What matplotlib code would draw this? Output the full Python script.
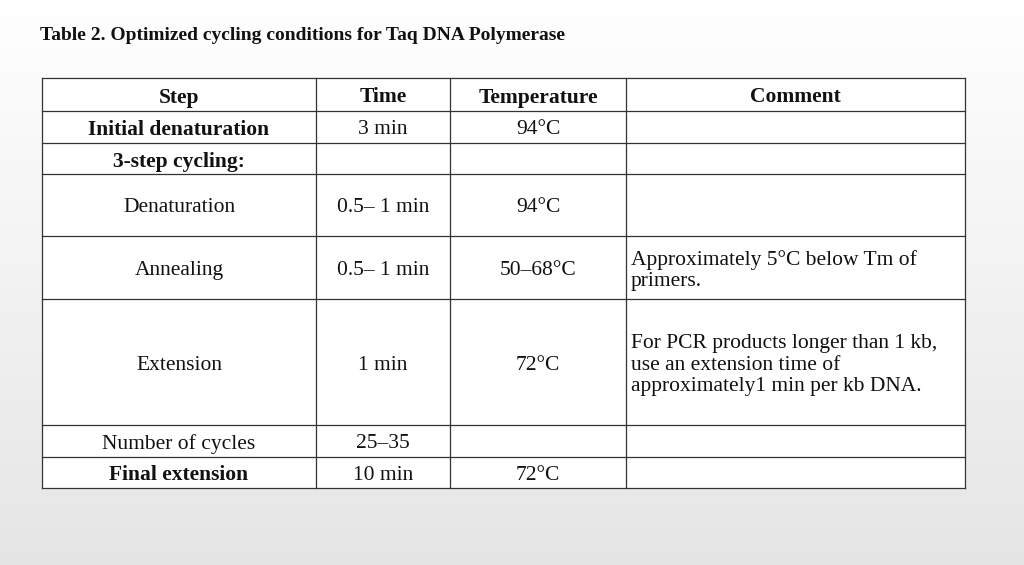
import numpy as np
import matplotlib
matplotlib.use("Agg")
import matplotlib.pyplot as plt

plt.rcParams['font.family'] = ['Liberation Serif', 'DejaVu Serif']

title = "Table 2. Optimized cycling conditions for Taq DNA Polymerase"
header = ["Step", "Time", "Temperature", "Comment"]
steps = ["Initial denaturation", "3-step cycling:", "Denaturation", "Annealing",
         "Extension", "Number of cycles", "Final extension"]
times = ["3 min", "", "0.5\u2013 1 min", "0.5\u2013 1 min", "1 min", "25\u201335", "10 min"]
temps = ["94\u00b0C", "", "94\u00b0C", "50\u201368\u00b0C", "72\u00b0C", "", "72\u00b0C"]
comments = ["", "", "", "Approximately 5\u00b0C below Tm of\nprimers.",
            "For PCR products longer than 1 kb,\nuse an extension time of\napproximately1 min per kb DNA.",
            "", ""]
bold_rows = [True, True, False, False, False, False, True]

# layout in pixels
col_edges = [42, 316, 450, 626, 965]
row_edges = [78, 111, 143, 174, 236, 299, 425, 457, 488]

fig = plt.figure(figsize=(10.24, 5.65), dpi=100)
ax = fig.add_axes([0, 0, 1, 1])
ax.set_xlim(0, 1024)
ax.set_ylim(565, 0)
ax.axis('off')

# background gradient
grad = np.linspace(1.0, 0.9, 256).reshape(-1, 1)
ax.imshow(np.dstack([grad, grad, grad]), extent=[0, 1024, 565, 0], aspect='auto', zorder=0)
ax.add_patch(plt.Rectangle((col_edges[0], row_edges[0]), col_edges[-1] - col_edges[0],
                           row_edges[-1] - row_edges[0], color='white', zorder=1))

for x in col_edges:
    ax.plot([x, x], [row_edges[0], row_edges[-1]], color='#333333', lw=0.9, zorder=2)
for y in row_edges:
    ax.plot([col_edges[0], col_edges[-1]], [y, y], color='#333333', lw=0.9, zorder=2)

ax.text(40, 35, title, fontsize=14, fontweight='bold', va='center', ha='left', color='#111111')

fs = 15.5
dy = 3
def centers(i):
    return [(col_edges[j] + col_edges[j + 1]) / 2 for j in range(4)], (row_edges[i] + row_edges[i + 1]) / 2 + dy

cx, cy = centers(0)
for j, h in enumerate(header):
    ax.text(cx[j], cy, h, fontsize=fs, fontweight='bold', ha='center', va='center', color='#111111')

for i in range(len(steps)):
    cx, cy = centers(i + 1)
    ax.text(cx[0], cy, steps[i], fontsize=fs, fontweight='bold' if bold_rows[i] else 'normal',
            ha='center', va='center', color='#111111')
    ax.text(cx[1], cy, times[i], fontsize=fs, ha='center', va='center', color='#111111')
    ax.text(cx[2], cy, temps[i], fontsize=fs, ha='center', va='center', color='#111111')
    if comments[i]:
        ax.text(col_edges[3] + 5, cy, comments[i], fontsize=fs, ha='left', va='center',
                linespacing=1.15, color='#111111')

fig.savefig("out.png", dpi=100)
